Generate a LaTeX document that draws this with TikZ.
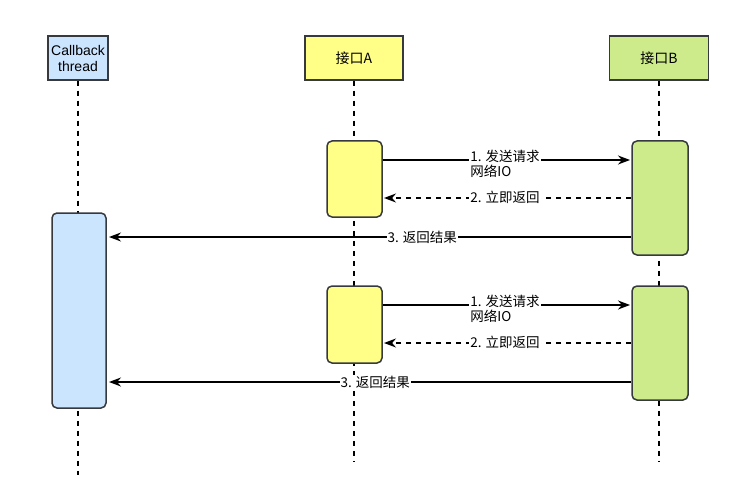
\documentclass[tikz,border=0pt]{standalone}
\usepackage{fontspec}
\setmainfont{Liberation Sans}
\newfontfamily\cjk{Noto Sans CJK SC}
\usetikzlibrary{arrows.meta}
\definecolor{bl}{HTML}{CCE5FF}
\definecolor{ye}{HTML}{FFFF88}
\definecolor{gr}{HTML}{CDEB8B}
\definecolor{st}{HTML}{36393D}
\begin{document}
\begin{tikzpicture}[x=1pt,y=-1pt,
 box/.style={draw=st,line width=1.5pt,minimum height=44pt,align=center,font=\fontsize{14}{16}\selectfont},
 act/.style={draw=st,line width=1.5pt,rounded corners=5pt},
 life/.style={line width=1.5pt,dash pattern=on 5pt off 5pt},
 msg/.style={line width=1.5pt,-{Stealth[length=12pt,width=9pt]}},
 lbl/.style={fill=white,inner sep=1pt,font=\fontsize{13.5}{15}\selectfont\cjk,align=left}]
\useasboundingbox (0,0) rectangle (750,500);
\node[box,fill=bl,minimum width=56pt] (cb) at (78,58) {Callback\\thread};
\node[box,fill=ye,minimum width=98pt] (ia) at (354,58) {\cjk 接口A};
\node[box,fill=gr,minimum width=99pt] (ib) at (659,58) {\cjk 接口B};
\coordinate (cbe) at (78,475); \coordinate (iae) at (354,462); \coordinate (ibe) at (659,462);
\draw[life] (cb.south) -- (cbe);
\draw[life] (ia.south) -- (iae);
\draw[life] (ib.south) -- (ibe);
\draw[act,fill=bl] (52,213) rectangle (106,408);
\draw[act,fill=ye] (327,141) rectangle (382,217);
\draw[act,fill=ye] (327,286) rectangle (382,363);
\draw[act,fill=gr] (632,141) rectangle (688,255);
\draw[act,fill=gr] (632,286) rectangle (688,400);
\foreach \o in {0,145}{
 \coordinate (a1) at (383,160+\o); \coordinate (b1) at (630,160+\o);
 \draw[msg] (a1) -- (b1);
 \node[lbl] at (505,164+\o) {1. 发送请求\\网络IO};
 \coordinate (a2) at (384,198+\o);
 \draw[msg,dash pattern=on 5pt off 5pt] (631,198+\o) -- (a2);
 \node[lbl] at (505,197+\o) {2. 立即返回};
}
\coordinate (s3) at (631,237); \coordinate (t3) at (109,237);
\draw[msg] (s3) -- (t3) node[lbl,pos=0.4] {3. 返回结果};
\coordinate (s4) at (631,382); \coordinate (t4) at (109,382);
\draw[msg] (s4) -- (t4) node[lbl,pos=0.49] {3. 返回结果};
\end{tikzpicture}
\end{document}
